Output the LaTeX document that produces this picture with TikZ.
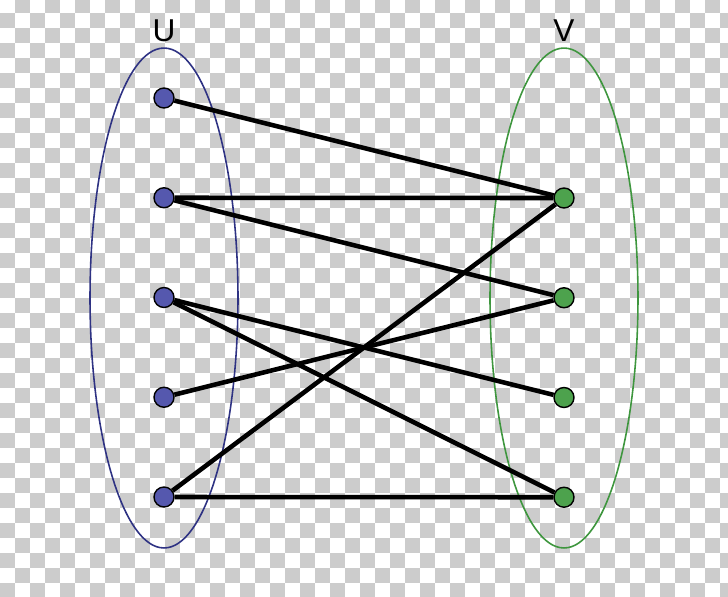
\documentclass[tikz,border=0pt]{standalone}
\usepackage{fontspec}
\setmainfont{Liberation Sans}
\usetikzlibrary{shapes.geometric}
\definecolor{ufill}{HTML}{5558AE}
\definecolor{uline}{HTML}{2E3283}
\definecolor{vfill}{HTML}{4DA24D}
\definecolor{vline}{HTML}{3E963E}
\definecolor{chk}{HTML}{CCCCCC}
\tikzset{
	uvert/.style={circle,draw=black,line width=0.8pt,fill=ufill,inner sep=0pt,minimum size=0.4cm},
	vvert/.style={uvert,fill=vfill},
	part/.style={ellipse,draw,line width=0.9pt,inner sep=0pt,minimum width=2.96cm,minimum height=10cm,
		label={[label distance=0.1cm,inner sep=0pt,font=\fontsize{18}{20}\selectfont]above:#1}},
	link/.style={line width=2.6pt}
}
\begin{document}
\begin{tikzpicture}[x=0.02cm,y=-0.02cm]
	\useasboundingbox (0,0) rectangle (728,596);
	% checker background
	\begin{scope}
	\clip (0,0) rectangle (728,596);
	\foreach \i in {0,...,48}
	\foreach \j in {0,...,40}{
		\pgfmathtruncatemacro\k{\i+\j}
		\ifodd\k \fill[chk] (15*\i,15*\j-1.7) rectangle +(15,15); \fi
	}
	\end{scope}
	% the two parts
	\node[part=U,draw=uline] (setU) at (164,298) {};
	\node[part=V,draw=vline] (setV) at (564,298) {};
	% vertices
	\foreach \n in {1,...,5}
		\node[uvert] (u\n) at (164,{98+99.75*(\n-1)}) {};
	\foreach \n in {1,...,4}
		\node[vvert] (v\n) at (564,{198+99.75*(\n-1)}) {};
	% edges
	\foreach \a/\b in {1/1,2/1,2/2,3/3,3/4,4/2,5/1,5/4}
		\draw[link] (u\a) -- (v\b);
\end{tikzpicture}
\end{document}
